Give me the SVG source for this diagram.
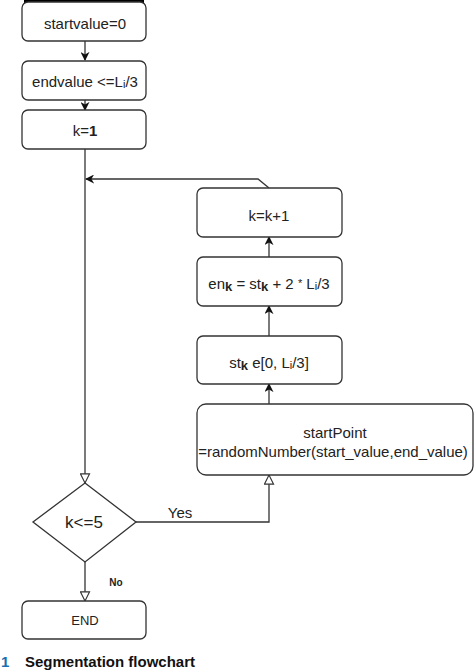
<svg xmlns="http://www.w3.org/2000/svg" width="474" height="670" viewBox="0 0 474 670">
<style>
  .box { fill: #fff; stroke: #333; stroke-width: 1.3; }
  .t { font-family: "Liberation Sans", Arial, sans-serif; font-size: 15px; fill: #222; text-anchor: middle; dominant-baseline: central; }
  .sub { font-size: 11px; }
  .subb { font-size: 13px; font-weight: bold; }
  .ln { fill: none; stroke: #333; stroke-width: 1.3; }
  .cap { font-family: "Liberation Sans", Arial, sans-serif; font-size: 15px; font-weight: bold; }
</style>
<defs>
  <marker id="fa" viewBox="0 0 10 10" refX="9" refY="5" markerWidth="9" markerHeight="9" markerUnits="userSpaceOnUse" orient="auto">
    <path d="M0,0 L10,5 L0,10 L3,5 Z" fill="#111"/>
  </marker>
  <marker id="oa" viewBox="0 0 12 12" refX="11" refY="6" markerWidth="11" markerHeight="11" markerUnits="userSpaceOnUse" orient="auto">
    <path d="M1,1 L11,6 L1,11 Z" fill="#fff" stroke="#333" stroke-width="1.2"/>
  </marker>
</defs>

<g id="connectors">
  <line class="ln" x1="85" y1="41" x2="85" y2="60" marker-end="url(#fa)"/>
  <line class="ln" x1="85" y1="100" x2="85" y2="110" marker-end="url(#fa)"/>
  <line class="ln" x1="85" y1="149" x2="85" y2="483" marker-end="url(#oa)"/>
  <polyline class="ln" points="269,188 258,179 86,179" marker-end="url(#fa)"/>
  <line class="ln" x1="269" y1="257" x2="269" y2="237" marker-end="url(#fa)"/>
  <line class="ln" x1="269" y1="336" x2="269" y2="306" marker-end="url(#fa)"/>
  <line class="ln" x1="269" y1="404" x2="269" y2="384" marker-end="url(#fa)"/>
  <polyline class="ln" points="136,522 269,522 269,475" marker-end="url(#oa)"/>
  <line class="ln" x1="85" y1="562" x2="85" y2="601" marker-end="url(#oa)"/>
  <text class="t" x="180" y="512">Yes</text>
  <text class="t" x="116" y="582" style="font-size:10px;font-weight:bold">No</text>
</g>

<g id="top-edge">
  <path d="M24,0 L144,0 L144,3 L24,3 Z" fill="#000"/>
</g>

<g id="startvalue">
  <rect class="box" x="22" y="2" width="124" height="39" rx="6"/>
  <text class="t" x="85" y="23">startvalue=0</text>
</g>

<g id="endvalue">
  <rect class="box" x="22" y="61" width="124" height="39" rx="6"/>
  <text class="t" x="85" y="81">endvalue &lt;=L<tspan class="sub" dy="3">i</tspan><tspan dy="-3">/3</tspan></text>
</g>

<g id="k1">
  <rect class="box" x="22" y="110" width="124" height="39" rx="6"/>
  <text class="t" x="85" y="130">k=<tspan font-weight="bold">1</tspan></text>
</g>

<g id="kinc">
  <rect class="box" x="197" y="188" width="145" height="49" rx="6"/>
  <text class="t" x="269" y="215">k=k+1</text>
</g>

<g id="enk">
  <rect class="box" x="197" y="257" width="145" height="49" rx="6"/>
  <text class="t" x="269" y="283">en<tspan class="subb" dy="3">k</tspan><tspan dy="-3"> = st</tspan><tspan class="subb" dy="3">k</tspan><tspan dy="-3"> + 2 </tspan><tspan font-size="11">*</tspan><tspan> L</tspan><tspan class="sub" dy="3">i</tspan><tspan dy="-3">/3</tspan></text>
</g>

<g id="stk">
  <rect class="box" x="197" y="336" width="145" height="48" rx="6"/>
  <text class="t" x="269" y="362">st<tspan class="subb" dy="3">k</tspan><tspan dy="-3"> e[0, L</tspan><tspan class="sub" dy="3">i</tspan><tspan dy="-3">/3]</tspan></text>
</g>

<g id="startpoint">
  <rect class="box" x="197" y="404" width="276" height="71" rx="9"/>
  <text class="t" x="335" y="432">startPoint</text>
  <text class="t" x="333" y="451">=randomNumber(start_value,end_value)</text>
</g>

<g id="decision">
  <polygon class="box" points="85,483 136,522 85,562 33,522"/>
  <text class="t" x="84" y="522" style="font-size:17px">k&lt;=5</text>
</g>

<g id="end">
  <rect class="box" x="22" y="601" width="124" height="38" rx="6"/>
  <text class="t" x="85" y="620" style="font-size:13px">END</text>
</g>

<g id="caption">
  <text class="cap" x="1" y="667" style="fill:#1a6fb0">1</text>
  <text class="cap" x="25" y="667" style="fill:#111">Segmentation flowchart</text>
</g>
</svg>
